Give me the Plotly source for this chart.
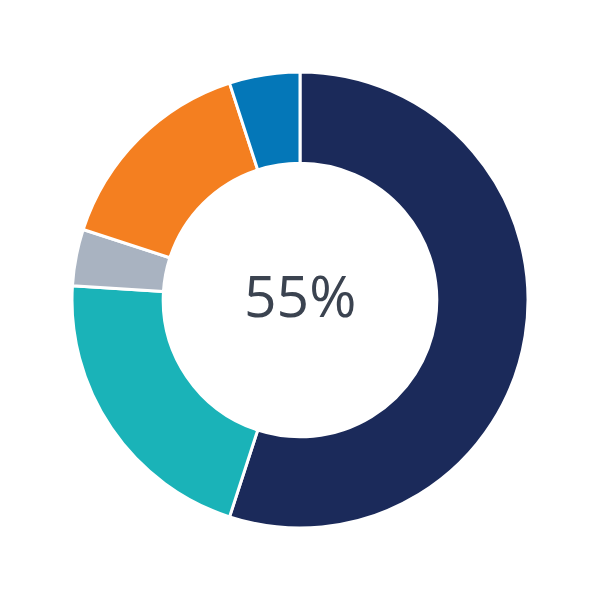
import plotly.graph_objects as go

labels = ["A", "B", "C", "D", "E"]
values = [55, 21, 4, 15, 5]
colors = ["#1b2a5a", "#1ab3b8", "#a9b3c1", "#f47f20", "#0477b8"]
center_text = "55%"

fig = go.Figure(go.Pie(
    labels=labels,
    values=values,
    hole=0.6,
    sort=False,
    direction="clockwise",
    rotation=0,
    marker=dict(colors=colors, line=dict(color="white", width=3)),
    textinfo="none",
    hoverinfo="label+percent",
    showlegend=False,
))
fig.add_annotation(text=center_text, x=0.5, y=0.5, xref="paper", yref="paper",
                   showarrow=False, yshift=5,
                   font=dict(family='"Open Sans", sans-serif', size=57, color="#3b4350"))
fig.update_layout(width=600, height=600, margin=dict(l=64, r=80, t=64, b=80),
                  paper_bgcolor="white", plot_bgcolor="white")
fig.write_html("out.html")
